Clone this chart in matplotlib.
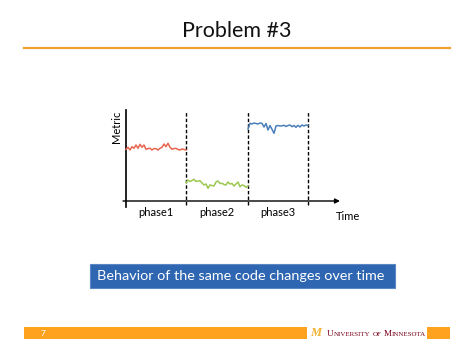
import matplotlib
matplotlib.use("Agg")
import matplotlib.pyplot as plt
from matplotlib.patches import Rectangle, FancyBboxPatch
import numpy as np

# ---- data ----
phase_labels = ["phase1", "phase2", "phase3"]
phase_bounds = [0, 60, 122, 182]

red_x = list(range(0, 62, 2))
red_y = [51.7, 53.7, 51.0, 54.3, 52.7, 56.0, 52.7, 56.7, 53.7, 56.0, 51.7, 52.5,
         52.7, 51.0, 52.5, 52.3, 51.0, 52.7, 53.7, 57.0, 54.3, 57.7, 53.7, 51.7,
         52.5, 52.7, 51.5, 51.0, 52.0, 51.5, 51.0]

green_x = list(range(60, 124, 2))
green_y = [18.3, 21.0, 19.5, 20.5, 21.7, 19.5, 20.0, 20.3, 18.0, 16.0, 17.0, 12.7,
           16.0, 15.5, 15.0, 19.0, 20.0, 17.5, 17.7, 16.5, 16.0, 19.0, 17.0, 17.5,
           15.0, 17.0, 19.0, 14.3, 16.0, 15.5, 13.7, 15.0]

blue_x = list(range(122, 184, 2))
blue_y = [72.0, 77.7, 77.0, 78.0, 77.5, 77.0, 78.0, 77.7, 74.0, 77.5, 71.0, 75.5,
          71.7, 67.7, 75.0, 75.5, 75.0, 75.2, 75.7, 74.5, 75.5, 76.0, 74.3, 75.5,
          73.7, 75.7, 74.0, 76.0, 75.0, 76.0, 75.5]

title = "Problem #3"
caption = "Behavior of the same code changes over time"
page_num = "7"
univ_words = ["University", "of", "Minnesota"]

W, H = 474, 355
fig = plt.figure(figsize=(W / 100, H / 100), dpi=100)
fig.patch.set_facecolor("white")
FONT = "Lato"

def fx(px):
    return px / W

def fy(py):
    return 1 - py / H

# title + rule
fig.text(fx(237), fy(31), title, ha="center", va="center", fontsize=15.5,
         family=FONT, color="#111111")
fig.add_artist(plt.Line2D([fx(24), fx(450)], [fy(48), fy(48)], color="#F0A22E",
                          lw=1.6, transform=fig.transFigure))

# chart axes: data x in [0, 213], y in [0, 91]
ax = fig.add_axes([fx(126), fy(201), fx(339) - fx(126), fy(110) - fy(201)])
ax.set_xlim(0, 213)
ax.set_ylim(0, 91)
ax.axis("off")

ax.plot([0, 0], [-6, 91], color="black", lw=1.2, clip_on=False)
ax.annotate("", xy=(214, 0), xytext=(-3, 0), xycoords="data",
            arrowprops=dict(arrowstyle="-|>", color="black", lw=1.0,
                            mutation_scale=7, shrinkA=0, shrinkB=0),
            annotation_clip=False)

for b in phase_bounds[1:]:
    ax.plot([b, b], [-4, 90], color="black", lw=1.0, ls=(0, (2.5, 1.5)), clip_on=False)

ax.plot(red_x, red_y, color="#E8654F", lw=1.1, clip_on=False)
ax.plot(green_x, green_y, color="#9CC850", lw=1.1, clip_on=False)
ax.plot(blue_x, blue_y, color="#4A7EBB", lw=1.1, clip_on=False)

for i, lab in enumerate(phase_labels):
    cx = (phase_bounds[i] + phase_bounds[i + 1]) / 2
    ax.text(cx, -11.5, lab, ha="center", va="center", fontsize=8, family=FONT)
ax.text(222, -15, "Time", ha="center", va="center", fontsize=8, family=FONT)
ax.text(-9, 74, "Metric", ha="center", va="center", rotation=90, fontsize=8, family=FONT)

# caption box
box = FancyBboxPatch((fx(90), fy(288)), fx(395) - fx(90), fy(264) - fy(288),
                     boxstyle="square,pad=0", transform=fig.transFigure,
                     facecolor="#2F66B2", edgecolor="#5A86C4", lw=0.8)
fig.add_artist(box)
fig.text(fx(241), fy(276), caption, ha="center", va="center", fontsize=10.4,
         family=FONT, color="white")

# footer
fig.add_artist(Rectangle((fx(24), fy(339)), fx(450) - fx(24), fy(327) - fy(339),
                         transform=fig.transFigure, facecolor="#FFA21F",
                         edgecolor="none"))
fig.add_artist(Rectangle((fx(307), fy(339)), fx(427) - fx(307), fy(327) - fy(339),
                         transform=fig.transFigure, facecolor="white",
                         edgecolor="none"))
fig.text(fx(43), fy(333), page_num, ha="center", va="center", fontsize=6,
         color="white", family=FONT)
fig.text(fx(316), fy(333), "M", ha="center", va="center", fontsize=9,
         color="#F2B233", family="Liberation Serif", weight="bold", style="italic")

# small-caps university name
renderer = fig.canvas.get_renderer()
xpos = 327.0
base = fy(336)
for wi, word in enumerate(univ_words):
    pieces = [(word[0].upper(), 6.6), (word[1:].upper(), 5.0)] if word != "of" else [(word.upper(), 5.0)]
    for txt, fs in pieces:
        t = fig.text(fx(xpos), base, txt, ha="left", va="baseline", fontsize=fs,
                     color="#7A0019", family="Liberation Serif")
        bb = t.get_window_extent(renderer=renderer)
        xpos += bb.width
    xpos += 2.2

fig.savefig("out.png", dpi=100)
